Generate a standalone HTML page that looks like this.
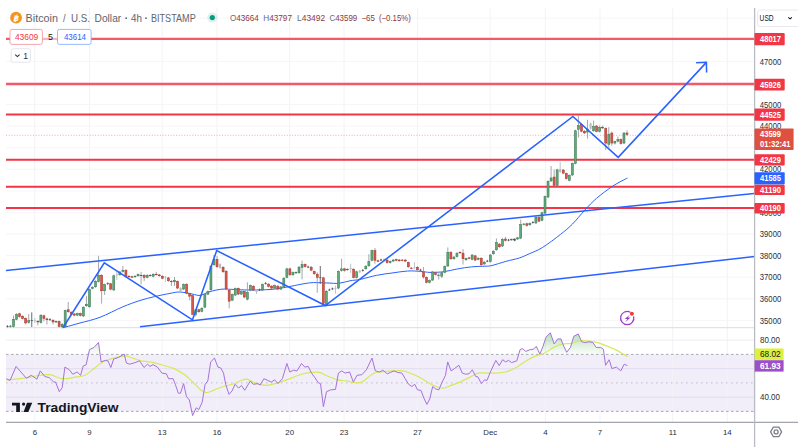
<!DOCTYPE html>
<html><head><meta charset="utf-8"><style>
html,body{margin:0;padding:0;background:#fff;}
body{width:798px;height:447px;overflow:hidden;position:relative;font-family:"Liberation Sans",sans-serif;}
svg{position:absolute;left:0;top:0;}
</style></head><body>
<svg width="798" height="447" viewBox="0 0 798 447" font-family="Liberation Sans, sans-serif">
<defs>
<linearGradient id="gf" x1="0" y1="330" x2="0" y2="354.4" gradientUnits="userSpaceOnUse">
<stop offset="0" stop-color="#4caf50" stop-opacity="0.45"/><stop offset="1" stop-color="#4caf50" stop-opacity="0.02"/>
</linearGradient>
<clipPath id="above70"><rect x="0" y="320" width="754" height="34.4"/></clipPath>
<clipPath id="chart"><rect x="6" y="8" width="748.5" height="414"/></clipPath>
</defs>
<rect x="0" y="0" width="798" height="447" fill="#ffffff"/>
<rect x="6" y="354.4" width="748" height="57.0" fill="#f1edf9"/>
<line x1="34.8" y1="8" x2="34.8" y2="422" stroke="#f3f3f5" stroke-width="1"/>
<line x1="89.5" y1="8" x2="89.5" y2="422" stroke="#f3f3f5" stroke-width="1"/>
<line x1="162.2" y1="8" x2="162.2" y2="422" stroke="#f3f3f5" stroke-width="1"/>
<line x1="217" y1="8" x2="217" y2="422" stroke="#f3f3f5" stroke-width="1"/>
<line x1="289.7" y1="8" x2="289.7" y2="422" stroke="#f3f3f5" stroke-width="1"/>
<line x1="344.1" y1="8" x2="344.1" y2="422" stroke="#f3f3f5" stroke-width="1"/>
<line x1="417.5" y1="8" x2="417.5" y2="422" stroke="#f3f3f5" stroke-width="1"/>
<line x1="490.2" y1="8" x2="490.2" y2="422" stroke="#f3f3f5" stroke-width="1"/>
<line x1="545.4" y1="8" x2="545.4" y2="422" stroke="#f3f3f5" stroke-width="1"/>
<line x1="600" y1="8" x2="600" y2="422" stroke="#f3f3f5" stroke-width="1"/>
<line x1="672.7" y1="8" x2="672.7" y2="422" stroke="#f3f3f5" stroke-width="1"/>
<line x1="727.3" y1="8" x2="727.3" y2="422" stroke="#f3f3f5" stroke-width="1"/>
<line x1="6" y1="320.4" x2="754" y2="320.4" stroke="#f6f6f8" stroke-width="1"/>
<line x1="6" y1="298.8" x2="754" y2="298.8" stroke="#f6f6f8" stroke-width="1"/>
<line x1="6" y1="277.2" x2="754" y2="277.2" stroke="#f6f6f8" stroke-width="1"/>
<line x1="6" y1="255.6" x2="754" y2="255.6" stroke="#f6f6f8" stroke-width="1"/>
<line x1="6" y1="234.0" x2="754" y2="234.0" stroke="#f6f6f8" stroke-width="1"/>
<line x1="6" y1="212.5" x2="754" y2="212.5" stroke="#f6f6f8" stroke-width="1"/>
<line x1="6" y1="190.9" x2="754" y2="190.9" stroke="#f6f6f8" stroke-width="1"/>
<line x1="6" y1="169.3" x2="754" y2="169.3" stroke="#f6f6f8" stroke-width="1"/>
<line x1="6" y1="147.7" x2="754" y2="147.7" stroke="#f6f6f8" stroke-width="1"/>
<line x1="6" y1="126.1" x2="754" y2="126.1" stroke="#f6f6f8" stroke-width="1"/>
<line x1="6" y1="104.6" x2="754" y2="104.6" stroke="#f6f6f8" stroke-width="1"/>
<line x1="6" y1="83.0" x2="754" y2="83.0" stroke="#f6f6f8" stroke-width="1"/>
<line x1="6" y1="61.4" x2="754" y2="61.4" stroke="#f6f6f8" stroke-width="1"/>
<line x1="6" y1="39.8" x2="754" y2="39.8" stroke="#f6f6f8" stroke-width="1"/>
<line x1="6" y1="18.2" x2="754" y2="18.2" stroke="#f6f6f8" stroke-width="1"/>
<line x1="6" y1="340.2" x2="754" y2="340.2" stroke="#eeedf4"/>
<line x1="6" y1="368.7" x2="754" y2="368.7" stroke="#e2ddef"/>
<line x1="6" y1="397.2" x2="754" y2="397.2" stroke="#e2ddef"/>
<line x1="6" y1="354.4" x2="754" y2="354.4" stroke="#a3a5ad" stroke-width="0.95" stroke-dasharray="2.5 2.5"/>
<line x1="6" y1="382.9" x2="754" y2="382.9" stroke="#c2c0ce" stroke-dasharray="1.6 3.4"/>
<line x1="6" y1="411.4" x2="754" y2="411.4" stroke="#a3a5ad" stroke-width="0.95" stroke-dasharray="2.5 2.5"/>
<line x1="6" y1="327.6" x2="754" y2="327.6" stroke="#e3e1ec" stroke-width="1.2"/>
<!-- RSI -->
<path d="M6.3,354.4 L6.3,378.7 10.0,380.5 16.1,366.4 26.4,378.3 31.3,375.3 36.9,379.2 40.3,370.9 44.8,376.5 49.2,377.6 53.7,382.0 55.5,382.0 59.3,391.7 62.2,387.7 64.9,367.1 69.4,369.8 72.7,374.2 77.2,372.0 80.6,375.3 83.2,366.0 86.1,364.8 89.5,349.6 94.0,347.4 98.5,342.5 101.1,361.9 105.2,360.4 107.9,360.8 110.8,367.5 113.7,359.0 118.6,357.4 124.2,354.1 126.4,363.0 129.5,364.2 135.1,362.6 139.5,360.8 144.0,367.5 147.4,364.2 150.0,366.4 153.0,364.6 157.4,367.1 161.9,373.1 166.4,373.8 168.6,378.7 173.1,378.7 175.3,384.3 178.3,393.2 180.5,393.2 183.6,383.6 186.5,396.6 189.4,400.0 192.6,415.6 196.2,407.8 198.8,409.6 202.2,402.2 205.1,384.3 207.8,381.0 210.7,361.9 214.5,358.1 217.9,367.1 220.8,368.0 223.5,373.1 225.7,384.3 229.0,394.4 232.0,391.0 235.1,384.3 238.7,388.1 241.4,385.4 244.7,390.3 250.3,381.0 253.4,384.3 257.8,383.6 260.1,385.0 263.9,378.7 267.9,380.5 271.3,382.1 274.6,379.8 278.0,383.6 282.4,378.7 286.9,363.5 289.8,372.0 293.6,370.2 297.0,370.9 301.5,363.5 304.8,367.1 308.2,366.4 311.5,373.1 314.9,377.6 318.2,382.7 320.5,383.6 323.4,406.7 326.5,391.7 330.6,389.9 335.5,389.4 338.4,373.1 341.7,370.9 345.1,373.1 349.6,372.0 353.4,382.1 357.0,375.3 361.9,374.7 366.4,369.8 372.0,358.1 375.3,370.9 379.5,372.0 382.8,370.2 387.3,373.8 390.7,372.4 394.0,370.9 397.4,372.4 401.9,373.1 405.2,378.7 408.6,384.3 411.9,386.5 414.8,384.3 417.5,389.9 420.9,390.3 424.2,398.8 426.9,404.4 429.8,398.8 432.7,386.5 435.4,388.8 438.8,389.9 442.1,382.1 445.5,375.3 447.7,361.9 451.1,370.9 454.4,368.6 458.9,365.3 462.3,373.1 465.6,374.2 469.0,373.8 472.3,369.8 475.7,376.5 477.9,376.9 481.3,383.6 484.6,379.8 486.9,380.5 490.9,370.9 495.8,360.4 499.2,365.7 502.7,359.7 505.6,361.9 508.5,360.4 511.6,362.6 516.8,360.8 520.1,349.6 522.4,348.5 525.7,351.4 530.2,349.6 533.6,349.2 536.3,346.3 539.8,354.1 543.0,346.3 545.9,337.3 550.3,332.8 554.2,344.0 557.7,338.9 560.9,338.9 563.8,346.3 566.7,352.3 570.5,347.4 573.8,336.2 578.3,334.0 581.7,341.8 585.0,342.5 589.1,341.8 592.9,342.5 596.2,347.4 600.7,347.4 603.4,349.2 605.6,365.3 609.2,359.7 611.9,368.6 616.4,367.1 620.8,370.9 624.2,364.2 627.5,365.7 L627.5,354.4 Z" fill="url(#gf)" clip-path="url(#above70)"/>
<path d="M6.3,379.8 C9.0,379.6 17.5,378.9 22.4,378.3 C27.3,377.7 31.3,376.6 35.8,376.0 C40.3,375.4 44.7,374.2 49.2,374.7 C53.7,375.1 58.2,378.3 62.7,378.7 C67.2,379.1 72.4,377.5 76.1,376.9 C79.8,376.3 82.0,376.7 85.0,375.3 C88.0,373.9 91.0,370.8 94.0,368.6 C97.0,366.4 99.6,363.6 102.9,361.9 C106.2,360.1 110.4,359.1 114.1,358.1 C117.8,357.1 122.0,355.8 125.3,355.9 C128.6,356.0 131.1,357.7 134.0,358.6 C136.9,359.5 139.6,360.5 142.9,361.2 C146.2,361.9 150.8,361.9 154.1,362.6 C157.4,363.3 159.7,364.3 163.0,365.3 C166.3,366.3 170.5,366.9 174.2,368.6 C177.9,370.3 182.0,372.8 185.4,375.3 C188.8,377.8 191.8,381.1 194.4,383.6 C197.0,386.1 199.1,388.8 201.1,390.3 C203.1,391.8 204.5,392.7 206.7,392.6 C208.9,392.5 211.7,390.9 214.5,389.9 C217.3,388.9 220.5,387.4 223.5,386.5 C226.5,385.6 229.4,385.3 232.4,384.3 C235.4,383.3 239.0,381.4 241.4,380.5 C243.8,379.6 244.4,378.7 247.0,379.2 C249.6,379.7 253.6,382.6 256.7,383.6 C259.8,384.6 262.7,385.4 265.7,385.4 C268.7,385.4 271.6,384.4 274.6,383.6 C277.6,382.9 280.6,381.9 283.6,380.9 C286.6,379.9 289.5,378.7 292.5,377.6 C295.5,376.5 298.5,375.1 301.5,374.2 C304.5,373.3 307.4,372.7 310.4,372.4 C313.4,372.1 316.4,371.7 319.4,372.4 C322.4,373.1 325.3,375.3 328.3,376.5 C331.3,377.7 334.3,379.1 337.3,379.8 C340.3,380.5 343.2,380.4 346.2,380.9 C349.2,381.4 352.6,382.5 355.2,382.7 C357.8,382.9 359.7,383.1 361.9,382.1 C364.1,381.1 366.6,378.4 368.6,376.9 C370.7,375.4 372.3,373.9 374.2,373.1 C376.1,372.3 378.4,372.3 380.0,372.0 C381.6,371.7 381.9,371.7 384.0,371.5 C386.1,371.3 389.7,371.0 392.9,370.9 C396.1,370.8 399.8,370.4 403.0,370.9 C406.2,371.4 408.7,372.5 411.9,373.8 C415.1,375.1 418.8,376.9 422.0,378.7 C425.2,380.4 427.5,382.7 430.9,384.3 C434.2,385.9 438.7,387.9 442.1,388.1 C445.5,388.3 448.1,386.4 451.1,385.4 C454.1,384.4 457.0,383.4 460.0,382.1 C463.0,380.8 466.0,379.1 469.0,377.6 C472.0,376.1 474.9,373.9 477.9,373.1 C480.9,372.4 483.9,373.1 486.9,373.1 C489.9,373.1 492.8,373.3 495.8,373.1 C498.8,372.9 502.8,372.4 505.0,372.0 C507.2,371.6 506.9,371.8 509.0,370.9 C511.1,370.0 514.9,368.1 517.9,366.4 C520.9,364.6 523.9,362.1 526.9,360.4 C529.9,358.6 532.8,357.1 535.8,355.9 C538.8,354.7 541.8,354.4 544.8,353.0 C547.8,351.6 550.7,348.9 553.7,347.4 C556.7,345.9 559.7,344.7 562.7,344.0 C565.7,343.3 568.6,343.9 571.6,343.3 C574.6,342.8 577.6,341.1 580.6,340.7 C583.6,340.3 586.5,340.7 589.5,341.1 C592.5,341.5 595.5,342.0 598.5,342.9 C601.5,343.8 604.4,345.1 607.4,346.3 C610.4,347.5 613.8,348.8 616.4,350.1 C619.0,351.4 621.2,353.0 623.1,354.1 C625.0,355.2 626.8,356.4 627.5,356.8" fill="none" stroke="#d7e85a" stroke-width="1.2"/>
<polyline points="6.3,378.7 10.0,380.5 16.1,366.4 26.4,378.3 31.3,375.3 36.9,379.2 40.3,370.9 44.8,376.5 49.2,377.6 53.7,382.0 55.5,382.0 59.3,391.7 62.2,387.7 64.9,367.1 69.4,369.8 72.7,374.2 77.2,372.0 80.6,375.3 83.2,366.0 86.1,364.8 89.5,349.6 94.0,347.4 98.5,342.5 101.1,361.9 105.2,360.4 107.9,360.8 110.8,367.5 113.7,359.0 118.6,357.4 124.2,354.1 126.4,363.0 129.5,364.2 135.1,362.6 139.5,360.8 144.0,367.5 147.4,364.2 150.0,366.4 153.0,364.6 157.4,367.1 161.9,373.1 166.4,373.8 168.6,378.7 173.1,378.7 175.3,384.3 178.3,393.2 180.5,393.2 183.6,383.6 186.5,396.6 189.4,400.0 192.6,415.6 196.2,407.8 198.8,409.6 202.2,402.2 205.1,384.3 207.8,381.0 210.7,361.9 214.5,358.1 217.9,367.1 220.8,368.0 223.5,373.1 225.7,384.3 229.0,394.4 232.0,391.0 235.1,384.3 238.7,388.1 241.4,385.4 244.7,390.3 250.3,381.0 253.4,384.3 257.8,383.6 260.1,385.0 263.9,378.7 267.9,380.5 271.3,382.1 274.6,379.8 278.0,383.6 282.4,378.7 286.9,363.5 289.8,372.0 293.6,370.2 297.0,370.9 301.5,363.5 304.8,367.1 308.2,366.4 311.5,373.1 314.9,377.6 318.2,382.7 320.5,383.6 323.4,406.7 326.5,391.7 330.6,389.9 335.5,389.4 338.4,373.1 341.7,370.9 345.1,373.1 349.6,372.0 353.4,382.1 357.0,375.3 361.9,374.7 366.4,369.8 372.0,358.1 375.3,370.9 379.5,372.0 382.8,370.2 387.3,373.8 390.7,372.4 394.0,370.9 397.4,372.4 401.9,373.1 405.2,378.7 408.6,384.3 411.9,386.5 414.8,384.3 417.5,389.9 420.9,390.3 424.2,398.8 426.9,404.4 429.8,398.8 432.7,386.5 435.4,388.8 438.8,389.9 442.1,382.1 445.5,375.3 447.7,361.9 451.1,370.9 454.4,368.6 458.9,365.3 462.3,373.1 465.6,374.2 469.0,373.8 472.3,369.8 475.7,376.5 477.9,376.9 481.3,383.6 484.6,379.8 486.9,380.5 490.9,370.9 495.8,360.4 499.2,365.7 502.7,359.7 505.6,361.9 508.5,360.4 511.6,362.6 516.8,360.8 520.1,349.6 522.4,348.5 525.7,351.4 530.2,349.6 533.6,349.2 536.3,346.3 539.8,354.1 543.0,346.3 545.9,337.3 550.3,332.8 554.2,344.0 557.7,338.9 560.9,338.9 563.8,346.3 566.7,352.3 570.5,347.4 573.8,336.2 578.3,334.0 581.7,341.8 585.0,342.5 589.1,341.8 592.9,342.5 596.2,347.4 600.7,347.4 603.4,349.2 605.6,365.3 609.2,359.7 611.9,368.6 616.4,367.1 620.8,370.9 624.2,364.2 627.5,365.7" fill="none" stroke="#a673da" stroke-width="1" stroke-linejoin="round"/>
<!-- price -->
<g clip-path="url(#chart)">
<line x1="6" y1="38.9" x2="754" y2="38.9" stroke="#f4586b" stroke-width="2.3"/>
<line x1="6" y1="84.0" x2="754" y2="84.0" stroke="#f4586b" stroke-width="2.3"/>
<line x1="6" y1="114.6" x2="754" y2="114.6" stroke="#f23645" stroke-width="2"/>
<line x1="6" y1="159.8" x2="754" y2="159.8" stroke="#f23645" stroke-width="2"/>
<line x1="6" y1="186.7" x2="754" y2="186.7" stroke="#f23645" stroke-width="2"/>
<line x1="6" y1="208.0" x2="754" y2="208.0" stroke="#f23645" stroke-width="2"/>
<line x1="6" y1="135.3" x2="754" y2="135.3" stroke="#f23645" stroke-width="1" stroke-dasharray="1 1.7" opacity="0.45"/>
<path d="M62.0,327.8 C62.6,327.7 62.8,327.8 65.8,327.0 C68.8,326.2 74.3,324.6 80.0,323.0 C85.7,321.4 92.9,320.0 100.0,317.3 C107.1,314.6 115.9,309.7 122.6,306.9 C129.3,304.1 134.7,302.2 140.0,300.5 C145.3,298.8 149.5,297.8 154.5,296.6 C159.5,295.4 165.8,294.2 170.0,293.4 C174.2,292.6 176.3,291.9 180.0,292.0 C183.7,292.1 188.7,293.4 192.0,294.0 C195.3,294.6 197.3,295.7 200.0,295.4 C202.7,295.1 205.3,293.2 208.0,292.3 C210.7,291.4 213.6,290.6 216.3,290.0 C219.0,289.4 222.1,289.1 224.4,289.0 C226.7,288.9 225.7,289.1 230.0,289.3 C234.3,289.5 243.3,290.0 250.0,290.0 C256.7,290.0 264.2,289.9 270.0,289.5 C275.8,289.1 279.5,288.3 285.0,287.4 C290.5,286.5 298.1,284.7 302.9,283.9 C307.7,283.1 309.4,282.8 313.6,282.6 C317.8,282.5 323.8,282.9 328.0,283.0 C332.2,283.1 335.0,283.7 338.7,283.3 C342.4,282.9 346.3,281.5 350.0,280.8 C353.7,280.1 356.3,280.2 360.7,279.3 C365.1,278.4 371.1,276.4 376.3,275.4 C381.5,274.3 386.8,273.7 392.0,273.0 C397.2,272.3 402.8,271.3 407.6,271.0 C412.4,270.7 417.0,271.2 420.7,271.4 C424.4,271.6 426.1,272.3 430.0,272.4 C433.9,272.4 439.2,272.3 443.8,271.7 C448.4,271.1 453.0,269.7 457.6,268.9 C462.2,268.1 466.8,267.3 471.4,266.9 C476.0,266.4 481.7,266.4 485.1,266.2 C488.5,266.0 488.6,266.3 492.0,265.5 C495.4,264.7 501.2,262.7 505.8,261.4 C510.4,260.1 515.7,259.2 519.6,257.9 C523.5,256.6 525.4,255.5 529.2,253.8 C533.0,252.1 537.1,250.8 542.3,247.6 C547.5,244.4 555.4,238.4 560.4,234.5 C565.4,230.6 568.5,228.0 572.5,224.0 C576.5,220.0 580.6,214.6 584.6,210.3 C588.6,206.0 592.0,202.2 596.7,198.2 C601.4,194.2 607.7,189.5 612.8,186.1 C617.9,182.7 625.0,179.3 627.5,178.0" fill="none" stroke="#2962ff" stroke-width="1"/>
<line x1="7.47" y1="325.2" x2="7.47" y2="327.4" stroke="#555a60" stroke-width="0.9"/>
<rect x="6.42" y="326.0" width="2.1" height="0.9" fill="#555a60"/>
<line x1="10.50" y1="325.0" x2="10.50" y2="327.5" stroke="#9b9da4" stroke-width="0.9"/>
<rect x="9.50" y="326.05" width="2.0" height="0.50" fill="#5fa97a" stroke="#3c7a52" stroke-width="0.55"/>
<line x1="13.54" y1="315.5" x2="13.54" y2="327.5" stroke="#9b9da4" stroke-width="0.9"/>
<rect x="12.54" y="319.25" width="2.0" height="7.20" fill="#5fa97a" stroke="#3c7a52" stroke-width="0.55"/>
<line x1="16.58" y1="313.2" x2="16.58" y2="320.3" stroke="#9b9da4" stroke-width="0.9"/>
<rect x="15.58" y="314.25" width="2.0" height="5.00" fill="#5fa97a" stroke="#3c7a52" stroke-width="0.55"/>
<line x1="19.61" y1="312.7" x2="19.61" y2="317.7" stroke="#9b9da4" stroke-width="0.9"/>
<rect x="18.61" y="313.75" width="2.0" height="2.90" fill="#d5584a" stroke="#a8392d" stroke-width="0.55"/>
<line x1="22.65" y1="315.2" x2="22.65" y2="319.6" stroke="#9b9da4" stroke-width="0.9"/>
<rect x="21.65" y="316.25" width="2.0" height="2.30" fill="#d5584a" stroke="#a8392d" stroke-width="0.55"/>
<line x1="25.69" y1="317.4" x2="25.69" y2="324.5" stroke="#9b9da4" stroke-width="0.9"/>
<rect x="24.69" y="318.45" width="2.0" height="4.40" fill="#d5584a" stroke="#a8392d" stroke-width="0.55"/>
<line x1="28.73" y1="314.0" x2="28.73" y2="323.5" stroke="#9b9da4" stroke-width="0.9"/>
<rect x="27.73" y="320.65" width="2.0" height="1.80" fill="#5fa97a" stroke="#3c7a52" stroke-width="0.55"/>
<line x1="31.76" y1="312.4" x2="31.76" y2="327.0" stroke="#555a60" stroke-width="0.9"/>
<rect x="30.71" y="320.0" width="2.1" height="0.9" fill="#555a60"/>
<line x1="34.80" y1="318.0" x2="34.80" y2="323.0" stroke="#b8bbc2" stroke-width="0.9"/>
<rect x="33.75" y="320.0" width="2.1" height="0.9" fill="#b8bbc2"/>
<line x1="37.84" y1="320.2" x2="37.84" y2="325.4" stroke="#9b9da4" stroke-width="0.9"/>
<rect x="36.84" y="321.25" width="2.0" height="0.70" fill="#d5584a" stroke="#a8392d" stroke-width="0.55"/>
<line x1="40.87" y1="314.2" x2="40.87" y2="323.5" stroke="#9b9da4" stroke-width="0.9"/>
<rect x="39.87" y="315.25" width="2.0" height="7.20" fill="#5fa97a" stroke="#3c7a52" stroke-width="0.55"/>
<line x1="43.91" y1="314.7" x2="43.91" y2="321.3" stroke="#9b9da4" stroke-width="0.9"/>
<rect x="42.91" y="315.75" width="2.0" height="2.60" fill="#d5584a" stroke="#a8392d" stroke-width="0.55"/>
<line x1="46.95" y1="317.8" x2="46.95" y2="324.5" stroke="#9b9da4" stroke-width="0.9"/>
<rect x="45.95" y="318.85" width="2.0" height="0.90" fill="#d5584a" stroke="#a8392d" stroke-width="0.55"/>
<line x1="49.98" y1="318.4" x2="49.98" y2="320.7" stroke="#555a60" stroke-width="0.9"/>
<rect x="48.94" y="319.2" width="2.1" height="0.9" fill="#555a60"/>
<line x1="53.02" y1="319.2" x2="53.02" y2="324.5" stroke="#9b9da4" stroke-width="0.9"/>
<rect x="52.02" y="320.25" width="2.0" height="1.70" fill="#d5584a" stroke="#a8392d" stroke-width="0.55"/>
<line x1="56.06" y1="320.5" x2="56.06" y2="323.0" stroke="#9b9da4" stroke-width="0.9"/>
<rect x="55.06" y="321.55" width="2.0" height="0.50" fill="#5fa97a" stroke="#3c7a52" stroke-width="0.55"/>
<line x1="59.10" y1="320.5" x2="59.10" y2="327.5" stroke="#9b9da4" stroke-width="0.9"/>
<rect x="58.10" y="321.55" width="2.0" height="4.90" fill="#d5584a" stroke="#a8392d" stroke-width="0.55"/>
<line x1="62.13" y1="323.2" x2="62.13" y2="327.8" stroke="#9b9da4" stroke-width="0.9"/>
<rect x="61.13" y="324.25" width="2.0" height="2.50" fill="#5fa97a" stroke="#3c7a52" stroke-width="0.55"/>
<line x1="65.17" y1="309.6" x2="65.17" y2="327.8" stroke="#9b9da4" stroke-width="0.9"/>
<rect x="64.17" y="310.65" width="2.0" height="16.10" fill="#5fa97a" stroke="#3c7a52" stroke-width="0.55"/>
<line x1="68.21" y1="302.0" x2="68.21" y2="312.8" stroke="#9b9da4" stroke-width="0.9"/>
<rect x="67.21" y="309.75" width="2.0" height="2.00" fill="#d5584a" stroke="#a8392d" stroke-width="0.55"/>
<line x1="71.24" y1="311.2" x2="71.24" y2="315.3" stroke="#9b9da4" stroke-width="0.9"/>
<rect x="70.24" y="312.25" width="2.0" height="2.00" fill="#d5584a" stroke="#a8392d" stroke-width="0.55"/>
<line x1="74.28" y1="312.9" x2="74.28" y2="316.2" stroke="#9b9da4" stroke-width="0.9"/>
<rect x="73.28" y="313.95" width="2.0" height="1.20" fill="#d5584a" stroke="#a8392d" stroke-width="0.55"/>
<line x1="77.32" y1="312.6" x2="77.32" y2="316.2" stroke="#9b9da4" stroke-width="0.9"/>
<rect x="76.32" y="313.65" width="2.0" height="1.50" fill="#5fa97a" stroke="#3c7a52" stroke-width="0.55"/>
<line x1="80.35" y1="312.6" x2="80.35" y2="316.5" stroke="#9b9da4" stroke-width="0.9"/>
<rect x="79.35" y="313.65" width="2.0" height="1.80" fill="#d5584a" stroke="#a8392d" stroke-width="0.55"/>
<line x1="83.39" y1="306.2" x2="83.39" y2="317.0" stroke="#9b9da4" stroke-width="0.9"/>
<rect x="82.39" y="307.25" width="2.0" height="8.70" fill="#5fa97a" stroke="#3c7a52" stroke-width="0.55"/>
<line x1="86.43" y1="296.0" x2="86.43" y2="306.8" stroke="#9b9da4" stroke-width="0.9"/>
<rect x="85.43" y="304.25" width="2.0" height="1.50" fill="#5fa97a" stroke="#3c7a52" stroke-width="0.55"/>
<line x1="89.47" y1="288.6" x2="89.47" y2="307.8" stroke="#9b9da4" stroke-width="0.9"/>
<rect x="88.47" y="289.65" width="2.0" height="17.10" fill="#5fa97a" stroke="#3c7a52" stroke-width="0.55"/>
<line x1="92.50" y1="286.2" x2="92.50" y2="289.4" stroke="#9b9da4" stroke-width="0.9"/>
<rect x="91.50" y="287.25" width="2.0" height="1.10" fill="#5fa97a" stroke="#3c7a52" stroke-width="0.55"/>
<line x1="95.54" y1="280.2" x2="95.54" y2="287.8" stroke="#9b9da4" stroke-width="0.9"/>
<rect x="94.54" y="281.25" width="2.0" height="5.50" fill="#5fa97a" stroke="#3c7a52" stroke-width="0.55"/>
<line x1="98.58" y1="255.8" x2="98.58" y2="282.6" stroke="#9b9da4" stroke-width="0.9"/>
<rect x="97.58" y="275.25" width="2.0" height="6.30" fill="#5fa97a" stroke="#3c7a52" stroke-width="0.55"/>
<line x1="101.61" y1="274.2" x2="101.61" y2="303.6" stroke="#9b9da4" stroke-width="0.9"/>
<rect x="100.61" y="275.25" width="2.0" height="15.50" fill="#d5584a" stroke="#a8392d" stroke-width="0.55"/>
<line x1="104.65" y1="283.6" x2="104.65" y2="295.0" stroke="#9b9da4" stroke-width="0.9"/>
<rect x="103.65" y="284.65" width="2.0" height="6.10" fill="#5fa97a" stroke="#3c7a52" stroke-width="0.55"/>
<line x1="107.69" y1="282.4" x2="107.69" y2="284.8" stroke="#555a60" stroke-width="0.9"/>
<rect x="106.64" y="283.2" width="2.1" height="0.9" fill="#555a60"/>
<line x1="110.72" y1="282.7" x2="110.72" y2="290.2" stroke="#9b9da4" stroke-width="0.9"/>
<rect x="109.72" y="283.75" width="2.0" height="5.40" fill="#d5584a" stroke="#a8392d" stroke-width="0.55"/>
<line x1="113.76" y1="274.7" x2="113.76" y2="291.0" stroke="#9b9da4" stroke-width="0.9"/>
<rect x="112.76" y="275.75" width="2.0" height="14.20" fill="#5fa97a" stroke="#3c7a52" stroke-width="0.55"/>
<line x1="116.80" y1="271.8" x2="116.80" y2="280.0" stroke="#b8bbc2" stroke-width="0.9"/>
<rect x="115.75" y="274.6" width="2.1" height="0.9" fill="#b8bbc2"/>
<line x1="119.84" y1="271.0" x2="119.84" y2="275.8" stroke="#9b9da4" stroke-width="0.9"/>
<rect x="118.84" y="272.05" width="2.0" height="2.70" fill="#5fa97a" stroke="#3c7a52" stroke-width="0.55"/>
<line x1="122.87" y1="266.0" x2="122.87" y2="272.6" stroke="#9b9da4" stroke-width="0.9"/>
<rect x="121.87" y="270.25" width="2.0" height="1.30" fill="#5fa97a" stroke="#3c7a52" stroke-width="0.55"/>
<line x1="125.91" y1="269.2" x2="125.91" y2="277.6" stroke="#9b9da4" stroke-width="0.9"/>
<rect x="124.91" y="270.25" width="2.0" height="6.30" fill="#d5584a" stroke="#a8392d" stroke-width="0.55"/>
<line x1="128.95" y1="275.2" x2="128.95" y2="277.8" stroke="#9b9da4" stroke-width="0.9"/>
<rect x="127.95" y="276.25" width="2.0" height="0.50" fill="#d5584a" stroke="#a8392d" stroke-width="0.55"/>
<line x1="131.98" y1="275.7" x2="131.98" y2="278.1" stroke="#9b9da4" stroke-width="0.9"/>
<rect x="130.98" y="276.75" width="2.0" height="0.50" fill="#d5584a" stroke="#a8392d" stroke-width="0.55"/>
<line x1="135.02" y1="275.2" x2="135.02" y2="277.8" stroke="#9b9da4" stroke-width="0.9"/>
<rect x="134.02" y="276.25" width="2.0" height="0.50" fill="#5fa97a" stroke="#3c7a52" stroke-width="0.55"/>
<line x1="138.06" y1="273.5" x2="138.06" y2="276.8" stroke="#9b9da4" stroke-width="0.9"/>
<rect x="137.06" y="274.55" width="2.0" height="1.20" fill="#5fa97a" stroke="#3c7a52" stroke-width="0.55"/>
<line x1="141.09" y1="271.8" x2="141.09" y2="284.4" stroke="#9b9da4" stroke-width="0.9"/>
<rect x="140.09" y="275.25" width="2.0" height="0.50" fill="#d5584a" stroke="#a8392d" stroke-width="0.55"/>
<line x1="144.13" y1="274.2" x2="144.13" y2="281.0" stroke="#9b9da4" stroke-width="0.9"/>
<rect x="143.13" y="275.25" width="2.0" height="2.10" fill="#d5584a" stroke="#a8392d" stroke-width="0.55"/>
<line x1="147.17" y1="274.2" x2="147.17" y2="278.4" stroke="#9b9da4" stroke-width="0.9"/>
<rect x="146.17" y="275.25" width="2.0" height="2.10" fill="#5fa97a" stroke="#3c7a52" stroke-width="0.55"/>
<line x1="150.21" y1="274.2" x2="150.21" y2="276.8" stroke="#9b9da4" stroke-width="0.9"/>
<rect x="149.21" y="275.25" width="2.0" height="0.50" fill="#d5584a" stroke="#a8392d" stroke-width="0.55"/>
<line x1="153.24" y1="273.2" x2="153.24" y2="277.3" stroke="#9b9da4" stroke-width="0.9"/>
<rect x="152.24" y="274.25" width="2.0" height="2.00" fill="#5fa97a" stroke="#3c7a52" stroke-width="0.55"/>
<line x1="156.28" y1="271.8" x2="156.28" y2="275.5" stroke="#9b9da4" stroke-width="0.9"/>
<rect x="155.28" y="274.25" width="2.0" height="0.50" fill="#d5584a" stroke="#a8392d" stroke-width="0.55"/>
<line x1="159.32" y1="273.9" x2="159.32" y2="276.8" stroke="#9b9da4" stroke-width="0.9"/>
<rect x="158.32" y="274.95" width="2.0" height="0.80" fill="#d5584a" stroke="#a8392d" stroke-width="0.55"/>
<line x1="162.35" y1="275.2" x2="162.35" y2="279.3" stroke="#9b9da4" stroke-width="0.9"/>
<rect x="161.35" y="276.25" width="2.0" height="2.00" fill="#d5584a" stroke="#a8392d" stroke-width="0.55"/>
<line x1="165.39" y1="276.0" x2="165.39" y2="281.8" stroke="#b8bbc2" stroke-width="0.9"/>
<rect x="164.34" y="276.6" width="2.1" height="0.9" fill="#b8bbc2"/>
<line x1="168.43" y1="276.9" x2="168.43" y2="281.8" stroke="#9b9da4" stroke-width="0.9"/>
<rect x="167.43" y="277.95" width="2.0" height="2.80" fill="#d5584a" stroke="#a8392d" stroke-width="0.55"/>
<line x1="171.46" y1="280.2" x2="171.46" y2="286.0" stroke="#9b9da4" stroke-width="0.9"/>
<rect x="170.46" y="281.25" width="2.0" height="0.50" fill="#5fa97a" stroke="#3c7a52" stroke-width="0.55"/>
<line x1="174.50" y1="277.0" x2="174.50" y2="286.0" stroke="#9b9da4" stroke-width="0.9"/>
<rect x="173.50" y="280.25" width="2.0" height="1.50" fill="#5fa97a" stroke="#3c7a52" stroke-width="0.55"/>
<line x1="177.54" y1="280.5" x2="177.54" y2="289.1" stroke="#9b9da4" stroke-width="0.9"/>
<rect x="176.54" y="281.55" width="2.0" height="6.50" fill="#d5584a" stroke="#a8392d" stroke-width="0.55"/>
<line x1="180.58" y1="287.2" x2="180.58" y2="291.8" stroke="#b8bbc2" stroke-width="0.9"/>
<rect x="179.53" y="288.0" width="2.1" height="3.0" fill="#b8bbc2"/>
<line x1="183.61" y1="283.5" x2="183.61" y2="290.1" stroke="#9b9da4" stroke-width="0.9"/>
<rect x="182.61" y="284.55" width="2.0" height="4.50" fill="#5fa97a" stroke="#3c7a52" stroke-width="0.55"/>
<line x1="186.65" y1="283.2" x2="186.65" y2="294.2" stroke="#9b9da4" stroke-width="0.9"/>
<rect x="185.65" y="284.25" width="2.0" height="8.90" fill="#d5584a" stroke="#a8392d" stroke-width="0.55"/>
<line x1="189.69" y1="292.6" x2="189.69" y2="300.4" stroke="#9b9da4" stroke-width="0.9"/>
<rect x="188.69" y="293.65" width="2.0" height="2.50" fill="#d5584a" stroke="#a8392d" stroke-width="0.55"/>
<line x1="192.72" y1="294.6" x2="192.72" y2="315.3" stroke="#9b9da4" stroke-width="0.9"/>
<rect x="191.72" y="295.65" width="2.0" height="18.60" fill="#d5584a" stroke="#a8392d" stroke-width="0.55"/>
<line x1="195.76" y1="308.7" x2="195.76" y2="316.4" stroke="#9b9da4" stroke-width="0.9"/>
<rect x="194.76" y="309.75" width="2.0" height="4.50" fill="#5fa97a" stroke="#3c7a52" stroke-width="0.55"/>
<line x1="198.80" y1="308.7" x2="198.80" y2="312.8" stroke="#9b9da4" stroke-width="0.9"/>
<rect x="197.80" y="309.75" width="2.0" height="2.00" fill="#d5584a" stroke="#a8392d" stroke-width="0.55"/>
<line x1="201.83" y1="307.2" x2="201.83" y2="312.3" stroke="#9b9da4" stroke-width="0.9"/>
<rect x="200.83" y="308.25" width="2.0" height="3.00" fill="#5fa97a" stroke="#3c7a52" stroke-width="0.55"/>
<line x1="204.87" y1="293.6" x2="204.87" y2="308.2" stroke="#9b9da4" stroke-width="0.9"/>
<rect x="203.87" y="294.65" width="2.0" height="12.50" fill="#5fa97a" stroke="#3c7a52" stroke-width="0.55"/>
<line x1="207.91" y1="290.5" x2="207.91" y2="295.2" stroke="#9b9da4" stroke-width="0.9"/>
<rect x="206.91" y="291.55" width="2.0" height="2.60" fill="#5fa97a" stroke="#3c7a52" stroke-width="0.55"/>
<line x1="210.95" y1="265.2" x2="210.95" y2="290.8" stroke="#9b9da4" stroke-width="0.9"/>
<rect x="209.95" y="266.25" width="2.0" height="23.50" fill="#5fa97a" stroke="#3c7a52" stroke-width="0.55"/>
<line x1="213.98" y1="255.0" x2="213.98" y2="265.8" stroke="#9b9da4" stroke-width="0.9"/>
<rect x="212.98" y="259.25" width="2.0" height="5.50" fill="#5fa97a" stroke="#3c7a52" stroke-width="0.55"/>
<line x1="217.02" y1="256.0" x2="217.02" y2="267.8" stroke="#9b9da4" stroke-width="0.9"/>
<rect x="216.02" y="259.25" width="2.0" height="7.50" fill="#d5584a" stroke="#a8392d" stroke-width="0.55"/>
<line x1="220.06" y1="263.2" x2="220.06" y2="268.8" stroke="#b8bbc2" stroke-width="0.9"/>
<rect x="219.01" y="264.0" width="2.1" height="4.0" fill="#b8bbc2"/>
<line x1="223.09" y1="266.2" x2="223.09" y2="272.8" stroke="#9b9da4" stroke-width="0.9"/>
<rect x="222.09" y="267.25" width="2.0" height="4.50" fill="#d5584a" stroke="#a8392d" stroke-width="0.55"/>
<line x1="226.13" y1="270.2" x2="226.13" y2="290.1" stroke="#9b9da4" stroke-width="0.9"/>
<rect x="225.13" y="271.25" width="2.0" height="17.80" fill="#d5584a" stroke="#a8392d" stroke-width="0.55"/>
<line x1="229.17" y1="289.2" x2="229.17" y2="308.4" stroke="#9b9da4" stroke-width="0.9"/>
<rect x="228.17" y="290.25" width="2.0" height="10.90" fill="#d5584a" stroke="#a8392d" stroke-width="0.55"/>
<line x1="232.20" y1="293.5" x2="232.20" y2="301.2" stroke="#9b9da4" stroke-width="0.9"/>
<rect x="231.20" y="294.55" width="2.0" height="5.60" fill="#5fa97a" stroke="#3c7a52" stroke-width="0.55"/>
<line x1="235.24" y1="287.5" x2="235.24" y2="296.1" stroke="#9b9da4" stroke-width="0.9"/>
<rect x="234.24" y="288.55" width="2.0" height="6.50" fill="#5fa97a" stroke="#3c7a52" stroke-width="0.55"/>
<line x1="238.28" y1="287.5" x2="238.28" y2="295.1" stroke="#9b9da4" stroke-width="0.9"/>
<rect x="237.28" y="288.55" width="2.0" height="5.50" fill="#d5584a" stroke="#a8392d" stroke-width="0.55"/>
<line x1="241.32" y1="290.5" x2="241.32" y2="295.1" stroke="#9b9da4" stroke-width="0.9"/>
<rect x="240.32" y="291.55" width="2.0" height="2.50" fill="#5fa97a" stroke="#3c7a52" stroke-width="0.55"/>
<line x1="244.35" y1="290.5" x2="244.35" y2="298.1" stroke="#9b9da4" stroke-width="0.9"/>
<rect x="243.35" y="291.55" width="2.0" height="5.50" fill="#d5584a" stroke="#a8392d" stroke-width="0.55"/>
<line x1="247.39" y1="282.3" x2="247.39" y2="300.4" stroke="#9b9da4" stroke-width="0.9"/>
<rect x="246.39" y="292.55" width="2.0" height="6.60" fill="#5fa97a" stroke="#3c7a52" stroke-width="0.55"/>
<line x1="250.43" y1="284.5" x2="250.43" y2="291.1" stroke="#9b9da4" stroke-width="0.9"/>
<rect x="249.43" y="285.55" width="2.0" height="4.50" fill="#5fa97a" stroke="#3c7a52" stroke-width="0.55"/>
<line x1="253.46" y1="285.2" x2="253.46" y2="291.1" stroke="#9b9da4" stroke-width="0.9"/>
<rect x="252.46" y="286.25" width="2.0" height="3.80" fill="#d5584a" stroke="#a8392d" stroke-width="0.55"/>
<line x1="256.50" y1="289.0" x2="256.50" y2="294.0" stroke="#b8bbc2" stroke-width="0.9"/>
<rect x="255.45" y="290.0" width="2.1" height="2.0" fill="#b8bbc2"/>
<line x1="259.54" y1="288.7" x2="259.54" y2="291.0" stroke="#555a60" stroke-width="0.9"/>
<rect x="258.49" y="289.5" width="2.1" height="0.9" fill="#555a60"/>
<line x1="262.57" y1="283.5" x2="262.57" y2="291.1" stroke="#9b9da4" stroke-width="0.9"/>
<rect x="261.57" y="284.55" width="2.0" height="5.50" fill="#5fa97a" stroke="#3c7a52" stroke-width="0.55"/>
<line x1="265.61" y1="282.2" x2="265.61" y2="284.5" stroke="#555a60" stroke-width="0.9"/>
<rect x="264.56" y="283.0" width="2.1" height="0.9" fill="#555a60"/>
<line x1="268.65" y1="283.1" x2="268.65" y2="287.5" stroke="#9b9da4" stroke-width="0.9"/>
<rect x="267.65" y="284.15" width="2.0" height="2.30" fill="#d5584a" stroke="#a8392d" stroke-width="0.55"/>
<line x1="271.69" y1="285.1" x2="271.69" y2="289.1" stroke="#9b9da4" stroke-width="0.9"/>
<rect x="270.69" y="286.15" width="2.0" height="1.90" fill="#d5584a" stroke="#a8392d" stroke-width="0.55"/>
<line x1="274.72" y1="284.5" x2="274.72" y2="289.1" stroke="#9b9da4" stroke-width="0.9"/>
<rect x="273.72" y="285.55" width="2.0" height="2.50" fill="#5fa97a" stroke="#3c7a52" stroke-width="0.55"/>
<line x1="277.76" y1="285.1" x2="277.76" y2="290.1" stroke="#9b9da4" stroke-width="0.9"/>
<rect x="276.76" y="286.15" width="2.0" height="2.90" fill="#d5584a" stroke="#a8392d" stroke-width="0.55"/>
<line x1="280.80" y1="285.9" x2="280.80" y2="290.1" stroke="#9b9da4" stroke-width="0.9"/>
<rect x="279.80" y="286.95" width="2.0" height="2.10" fill="#5fa97a" stroke="#3c7a52" stroke-width="0.55"/>
<line x1="283.83" y1="277.2" x2="283.83" y2="288.1" stroke="#9b9da4" stroke-width="0.9"/>
<rect x="282.83" y="278.25" width="2.0" height="8.80" fill="#5fa97a" stroke="#3c7a52" stroke-width="0.55"/>
<line x1="286.87" y1="267.8" x2="286.87" y2="278.4" stroke="#9b9da4" stroke-width="0.9"/>
<rect x="285.87" y="268.85" width="2.0" height="8.50" fill="#5fa97a" stroke="#3c7a52" stroke-width="0.55"/>
<line x1="289.91" y1="267.8" x2="289.91" y2="275.8" stroke="#9b9da4" stroke-width="0.9"/>
<rect x="288.91" y="268.85" width="2.0" height="5.90" fill="#d5584a" stroke="#a8392d" stroke-width="0.55"/>
<line x1="292.94" y1="271.4" x2="292.94" y2="275.8" stroke="#9b9da4" stroke-width="0.9"/>
<rect x="291.94" y="272.45" width="2.0" height="2.30" fill="#5fa97a" stroke="#3c7a52" stroke-width="0.55"/>
<line x1="295.98" y1="271.4" x2="295.98" y2="273.9" stroke="#9b9da4" stroke-width="0.9"/>
<rect x="294.98" y="272.45" width="2.0" height="0.50" fill="#5fa97a" stroke="#3c7a52" stroke-width="0.55"/>
<line x1="299.02" y1="266.1" x2="299.02" y2="273.8" stroke="#9b9da4" stroke-width="0.9"/>
<rect x="298.02" y="267.15" width="2.0" height="5.60" fill="#5fa97a" stroke="#3c7a52" stroke-width="0.55"/>
<line x1="302.06" y1="260.6" x2="302.06" y2="279.4" stroke="#9b9da4" stroke-width="0.9"/>
<rect x="301.06" y="264.45" width="2.0" height="3.10" fill="#5fa97a" stroke="#3c7a52" stroke-width="0.55"/>
<line x1="305.09" y1="263.4" x2="305.09" y2="267.7" stroke="#9b9da4" stroke-width="0.9"/>
<rect x="304.09" y="264.45" width="2.0" height="2.20" fill="#d5584a" stroke="#a8392d" stroke-width="0.55"/>
<line x1="308.13" y1="265.8" x2="308.13" y2="268.1" stroke="#555a60" stroke-width="0.9"/>
<rect x="307.08" y="266.6" width="2.1" height="0.9" fill="#555a60"/>
<line x1="311.17" y1="266.1" x2="311.17" y2="271.2" stroke="#9b9da4" stroke-width="0.9"/>
<rect x="310.17" y="267.15" width="2.0" height="3.00" fill="#d5584a" stroke="#a8392d" stroke-width="0.55"/>
<line x1="314.20" y1="270.5" x2="314.20" y2="274.8" stroke="#9b9da4" stroke-width="0.9"/>
<rect x="313.20" y="271.55" width="2.0" height="2.20" fill="#d5584a" stroke="#a8392d" stroke-width="0.55"/>
<line x1="317.24" y1="272.2" x2="317.24" y2="292.8" stroke="#9b9da4" stroke-width="0.9"/>
<rect x="316.24" y="274.25" width="2.0" height="3.10" fill="#d5584a" stroke="#a8392d" stroke-width="0.55"/>
<line x1="320.28" y1="266.0" x2="320.28" y2="283.9" stroke="#555a60" stroke-width="0.9"/>
<rect x="319.23" y="277.2" width="2.1" height="0.9" fill="#555a60"/>
<line x1="323.31" y1="276.8" x2="323.31" y2="304.4" stroke="#9b9da4" stroke-width="0.9"/>
<rect x="322.31" y="277.85" width="2.0" height="25.50" fill="#d5584a" stroke="#a8392d" stroke-width="0.55"/>
<line x1="326.35" y1="290.2" x2="326.35" y2="306.2" stroke="#9b9da4" stroke-width="0.9"/>
<rect x="325.35" y="291.25" width="2.0" height="13.90" fill="#5fa97a" stroke="#3c7a52" stroke-width="0.55"/>
<line x1="329.39" y1="288.7" x2="329.39" y2="291.0" stroke="#555a60" stroke-width="0.9"/>
<rect x="328.34" y="289.5" width="2.1" height="0.9" fill="#555a60"/>
<line x1="332.43" y1="287.6" x2="332.43" y2="289.9" stroke="#555a60" stroke-width="0.9"/>
<rect x="331.38" y="288.4" width="2.1" height="0.9" fill="#555a60"/>
<line x1="335.46" y1="285.6" x2="335.46" y2="293.7" stroke="#b8bbc2" stroke-width="0.9"/>
<rect x="334.41" y="288.0" width="2.1" height="0.9" fill="#b8bbc2"/>
<line x1="338.50" y1="270.5" x2="338.50" y2="289.1" stroke="#9b9da4" stroke-width="0.9"/>
<rect x="337.50" y="271.55" width="2.0" height="16.50" fill="#5fa97a" stroke="#3c7a52" stroke-width="0.55"/>
<line x1="341.54" y1="258.8" x2="341.54" y2="271.6" stroke="#9b9da4" stroke-width="0.9"/>
<rect x="340.54" y="268.85" width="2.0" height="1.70" fill="#5fa97a" stroke="#3c7a52" stroke-width="0.55"/>
<line x1="344.57" y1="267.8" x2="344.57" y2="271.6" stroke="#9b9da4" stroke-width="0.9"/>
<rect x="343.57" y="268.85" width="2.0" height="1.70" fill="#d5584a" stroke="#a8392d" stroke-width="0.55"/>
<line x1="347.61" y1="268.2" x2="347.61" y2="270.8" stroke="#9b9da4" stroke-width="0.9"/>
<rect x="346.61" y="269.25" width="2.0" height="0.50" fill="#5fa97a" stroke="#3c7a52" stroke-width="0.55"/>
<line x1="350.65" y1="263.7" x2="350.65" y2="273.0" stroke="#b8bbc2" stroke-width="0.9"/>
<rect x="349.60" y="268.0" width="2.1" height="1.0" fill="#b8bbc2"/>
<line x1="353.69" y1="268.2" x2="353.69" y2="278.6" stroke="#9b9da4" stroke-width="0.9"/>
<rect x="352.69" y="269.25" width="2.0" height="8.30" fill="#d5584a" stroke="#a8392d" stroke-width="0.55"/>
<line x1="356.72" y1="270.7" x2="356.72" y2="278.6" stroke="#9b9da4" stroke-width="0.9"/>
<rect x="355.72" y="271.75" width="2.0" height="5.80" fill="#5fa97a" stroke="#3c7a52" stroke-width="0.55"/>
<line x1="359.76" y1="269.9" x2="359.76" y2="273.1" stroke="#b8bbc2" stroke-width="0.9"/>
<rect x="358.71" y="270.7" width="2.1" height="1.6" fill="#b8bbc2"/>
<line x1="362.80" y1="269.2" x2="362.80" y2="271.5" stroke="#555a60" stroke-width="0.9"/>
<rect x="361.75" y="270.0" width="2.1" height="0.9" fill="#555a60"/>
<line x1="365.83" y1="265.2" x2="365.83" y2="269.8" stroke="#9b9da4" stroke-width="0.9"/>
<rect x="364.83" y="266.25" width="2.0" height="2.50" fill="#5fa97a" stroke="#3c7a52" stroke-width="0.55"/>
<line x1="368.87" y1="254.3" x2="368.87" y2="266.8" stroke="#9b9da4" stroke-width="0.9"/>
<rect x="367.87" y="261.55" width="2.0" height="4.20" fill="#5fa97a" stroke="#3c7a52" stroke-width="0.55"/>
<line x1="371.91" y1="249.6" x2="371.91" y2="261.3" stroke="#9b9da4" stroke-width="0.9"/>
<rect x="370.91" y="250.65" width="2.0" height="9.60" fill="#5fa97a" stroke="#3c7a52" stroke-width="0.55"/>
<line x1="374.94" y1="248.0" x2="374.94" y2="263.7" stroke="#9b9da4" stroke-width="0.9"/>
<rect x="373.94" y="250.65" width="2.0" height="9.60" fill="#d5584a" stroke="#a8392d" stroke-width="0.55"/>
<line x1="377.98" y1="259.7" x2="377.98" y2="262.1" stroke="#9b9da4" stroke-width="0.9"/>
<rect x="376.98" y="260.75" width="2.0" height="0.50" fill="#d5584a" stroke="#a8392d" stroke-width="0.55"/>
<line x1="381.02" y1="258.7" x2="381.02" y2="261.0" stroke="#555a60" stroke-width="0.9"/>
<rect x="379.97" y="259.5" width="2.1" height="0.9" fill="#555a60"/>
<line x1="384.06" y1="258.2" x2="384.06" y2="261.3" stroke="#b8bbc2" stroke-width="0.9"/>
<rect x="383.00" y="259.0" width="2.1" height="1.5" fill="#b8bbc2"/>
<line x1="387.09" y1="259.0" x2="387.09" y2="263.7" stroke="#9b9da4" stroke-width="0.9"/>
<rect x="386.09" y="260.05" width="2.0" height="2.60" fill="#d5584a" stroke="#a8392d" stroke-width="0.55"/>
<line x1="390.13" y1="260.5" x2="390.13" y2="263.7" stroke="#9b9da4" stroke-width="0.9"/>
<rect x="389.13" y="261.55" width="2.0" height="1.10" fill="#5fa97a" stroke="#3c7a52" stroke-width="0.55"/>
<line x1="393.17" y1="259.0" x2="393.17" y2="262.1" stroke="#9b9da4" stroke-width="0.9"/>
<rect x="392.17" y="260.05" width="2.0" height="1.00" fill="#5fa97a" stroke="#3c7a52" stroke-width="0.55"/>
<line x1="396.20" y1="258.6" x2="396.20" y2="261.3" stroke="#9b9da4" stroke-width="0.9"/>
<rect x="395.20" y="259.65" width="2.0" height="0.60" fill="#d5584a" stroke="#a8392d" stroke-width="0.55"/>
<line x1="399.24" y1="259.0" x2="399.24" y2="261.8" stroke="#9b9da4" stroke-width="0.9"/>
<rect x="398.24" y="260.05" width="2.0" height="0.70" fill="#d5584a" stroke="#a8392d" stroke-width="0.55"/>
<line x1="402.28" y1="259.0" x2="402.28" y2="261.3" stroke="#9b9da4" stroke-width="0.9"/>
<rect x="401.28" y="260.05" width="2.0" height="0.50" fill="#d5584a" stroke="#a8392d" stroke-width="0.55"/>
<line x1="405.31" y1="259.0" x2="405.31" y2="262.1" stroke="#9b9da4" stroke-width="0.9"/>
<rect x="404.31" y="260.05" width="2.0" height="1.00" fill="#d5584a" stroke="#a8392d" stroke-width="0.55"/>
<line x1="408.35" y1="261.5" x2="408.35" y2="267.8" stroke="#9b9da4" stroke-width="0.9"/>
<rect x="407.35" y="262.55" width="2.0" height="4.20" fill="#d5584a" stroke="#a8392d" stroke-width="0.55"/>
<line x1="411.39" y1="267.0" x2="411.39" y2="269.3" stroke="#9b9da4" stroke-width="0.9"/>
<rect x="410.39" y="268.05" width="2.0" height="0.50" fill="#d5584a" stroke="#a8392d" stroke-width="0.55"/>
<line x1="414.43" y1="262.3" x2="414.43" y2="269.3" stroke="#b8bbc2" stroke-width="0.9"/>
<rect x="413.38" y="267.5" width="2.1" height="0.9" fill="#b8bbc2"/>
<line x1="417.46" y1="266.2" x2="417.46" y2="270.8" stroke="#9b9da4" stroke-width="0.9"/>
<rect x="416.46" y="267.25" width="2.0" height="2.50" fill="#d5584a" stroke="#a8392d" stroke-width="0.55"/>
<line x1="420.50" y1="268.9" x2="420.50" y2="271.2" stroke="#555a60" stroke-width="0.9"/>
<rect x="419.45" y="269.7" width="2.1" height="0.9" fill="#555a60"/>
<line x1="423.54" y1="267.0" x2="423.54" y2="278.7" stroke="#9b9da4" stroke-width="0.9"/>
<rect x="422.54" y="271.95" width="2.0" height="5.00" fill="#d5584a" stroke="#a8392d" stroke-width="0.55"/>
<line x1="426.57" y1="276.4" x2="426.57" y2="283.4" stroke="#9b9da4" stroke-width="0.9"/>
<rect x="425.57" y="277.45" width="2.0" height="4.90" fill="#d5584a" stroke="#a8392d" stroke-width="0.55"/>
<line x1="429.61" y1="279.5" x2="429.61" y2="283.4" stroke="#9b9da4" stroke-width="0.9"/>
<rect x="428.61" y="280.55" width="2.0" height="1.80" fill="#5fa97a" stroke="#3c7a52" stroke-width="0.55"/>
<line x1="432.65" y1="270.9" x2="432.65" y2="281.1" stroke="#9b9da4" stroke-width="0.9"/>
<rect x="431.65" y="271.95" width="2.0" height="8.10" fill="#5fa97a" stroke="#3c7a52" stroke-width="0.55"/>
<line x1="435.68" y1="271.7" x2="435.68" y2="275.6" stroke="#9b9da4" stroke-width="0.9"/>
<rect x="434.68" y="272.75" width="2.0" height="1.80" fill="#d5584a" stroke="#a8392d" stroke-width="0.55"/>
<line x1="438.72" y1="273.2" x2="438.72" y2="279.5" stroke="#9b9da4" stroke-width="0.9"/>
<rect x="437.72" y="275.05" width="2.0" height="0.50" fill="#d5584a" stroke="#a8392d" stroke-width="0.55"/>
<line x1="441.76" y1="271.7" x2="441.76" y2="278.0" stroke="#9b9da4" stroke-width="0.9"/>
<rect x="440.76" y="272.75" width="2.0" height="3.40" fill="#5fa97a" stroke="#3c7a52" stroke-width="0.55"/>
<line x1="444.80" y1="265.4" x2="444.80" y2="273.3" stroke="#9b9da4" stroke-width="0.9"/>
<rect x="443.80" y="266.45" width="2.0" height="5.80" fill="#5fa97a" stroke="#3c7a52" stroke-width="0.55"/>
<line x1="447.83" y1="247.4" x2="447.83" y2="267.0" stroke="#9b9da4" stroke-width="0.9"/>
<rect x="446.83" y="252.25" width="2.0" height="13.70" fill="#5fa97a" stroke="#3c7a52" stroke-width="0.55"/>
<line x1="450.87" y1="251.2" x2="450.87" y2="259.8" stroke="#9b9da4" stroke-width="0.9"/>
<rect x="449.87" y="252.25" width="2.0" height="6.50" fill="#d5584a" stroke="#a8392d" stroke-width="0.55"/>
<line x1="453.91" y1="256.0" x2="453.91" y2="259.8" stroke="#9b9da4" stroke-width="0.9"/>
<rect x="452.91" y="257.05" width="2.0" height="1.70" fill="#5fa97a" stroke="#3c7a52" stroke-width="0.55"/>
<line x1="456.94" y1="252.2" x2="456.94" y2="257.6" stroke="#9b9da4" stroke-width="0.9"/>
<rect x="455.94" y="253.25" width="2.0" height="3.30" fill="#5fa97a" stroke="#3c7a52" stroke-width="0.55"/>
<line x1="459.98" y1="251.3" x2="459.98" y2="253.7" stroke="#9b9da4" stroke-width="0.9"/>
<rect x="458.98" y="252.35" width="2.0" height="0.50" fill="#d5584a" stroke="#a8392d" stroke-width="0.55"/>
<line x1="463.02" y1="249.0" x2="463.02" y2="264.6" stroke="#9b9da4" stroke-width="0.9"/>
<rect x="462.02" y="253.15" width="2.0" height="5.60" fill="#d5584a" stroke="#a8392d" stroke-width="0.55"/>
<line x1="466.05" y1="257.6" x2="466.05" y2="260.8" stroke="#9b9da4" stroke-width="0.9"/>
<rect x="465.05" y="258.65" width="2.0" height="1.10" fill="#5fa97a" stroke="#3c7a52" stroke-width="0.55"/>
<line x1="469.09" y1="256.8" x2="469.09" y2="259.2" stroke="#9b9da4" stroke-width="0.9"/>
<rect x="468.09" y="257.85" width="2.0" height="0.50" fill="#d5584a" stroke="#a8392d" stroke-width="0.55"/>
<line x1="472.13" y1="254.0" x2="472.13" y2="260.3" stroke="#9b9da4" stroke-width="0.9"/>
<rect x="471.13" y="255.05" width="2.0" height="4.20" fill="#5fa97a" stroke="#3c7a52" stroke-width="0.55"/>
<line x1="475.17" y1="254.8" x2="475.17" y2="261.1" stroke="#9b9da4" stroke-width="0.9"/>
<rect x="474.17" y="255.85" width="2.0" height="4.20" fill="#d5584a" stroke="#a8392d" stroke-width="0.55"/>
<line x1="478.20" y1="257.2" x2="478.20" y2="260.3" stroke="#9b9da4" stroke-width="0.9"/>
<rect x="477.20" y="258.25" width="2.0" height="1.00" fill="#5fa97a" stroke="#3c7a52" stroke-width="0.55"/>
<line x1="481.24" y1="257.2" x2="481.24" y2="266.6" stroke="#9b9da4" stroke-width="0.9"/>
<rect x="480.24" y="258.25" width="2.0" height="6.50" fill="#d5584a" stroke="#a8392d" stroke-width="0.55"/>
<line x1="484.28" y1="261.1" x2="484.28" y2="265.0" stroke="#9b9da4" stroke-width="0.9"/>
<rect x="483.28" y="262.15" width="2.0" height="1.80" fill="#5fa97a" stroke="#3c7a52" stroke-width="0.55"/>
<line x1="487.31" y1="259.9" x2="487.31" y2="262.2" stroke="#555a60" stroke-width="0.9"/>
<rect x="486.26" y="260.7" width="2.1" height="0.9" fill="#555a60"/>
<line x1="490.35" y1="254.0" x2="490.35" y2="262.7" stroke="#9b9da4" stroke-width="0.9"/>
<rect x="489.35" y="255.05" width="2.0" height="6.60" fill="#5fa97a" stroke="#3c7a52" stroke-width="0.55"/>
<line x1="493.39" y1="250.2" x2="493.39" y2="254.8" stroke="#9b9da4" stroke-width="0.9"/>
<rect x="492.39" y="251.25" width="2.0" height="2.50" fill="#5fa97a" stroke="#3c7a52" stroke-width="0.55"/>
<line x1="496.42" y1="238.4" x2="496.42" y2="250.8" stroke="#9b9da4" stroke-width="0.9"/>
<rect x="495.42" y="242.55" width="2.0" height="7.20" fill="#5fa97a" stroke="#3c7a52" stroke-width="0.55"/>
<line x1="499.46" y1="243.1" x2="499.46" y2="247.8" stroke="#9b9da4" stroke-width="0.9"/>
<rect x="498.46" y="244.15" width="2.0" height="2.60" fill="#d5584a" stroke="#a8392d" stroke-width="0.55"/>
<line x1="502.50" y1="238.2" x2="502.50" y2="247.0" stroke="#9b9da4" stroke-width="0.9"/>
<rect x="501.50" y="239.25" width="2.0" height="6.70" fill="#5fa97a" stroke="#3c7a52" stroke-width="0.55"/>
<line x1="505.54" y1="236.8" x2="505.54" y2="241.5" stroke="#9b9da4" stroke-width="0.9"/>
<rect x="504.54" y="239.05" width="2.0" height="1.40" fill="#d5584a" stroke="#a8392d" stroke-width="0.55"/>
<line x1="508.57" y1="238.9" x2="508.57" y2="241.2" stroke="#555a60" stroke-width="0.9"/>
<rect x="507.52" y="239.7" width="2.1" height="0.9" fill="#555a60"/>
<line x1="511.61" y1="238.4" x2="511.61" y2="240.8" stroke="#9b9da4" stroke-width="0.9"/>
<rect x="510.61" y="239.45" width="2.0" height="0.50" fill="#5fa97a" stroke="#3c7a52" stroke-width="0.55"/>
<line x1="514.65" y1="238.0" x2="514.65" y2="240.8" stroke="#9b9da4" stroke-width="0.9"/>
<rect x="513.65" y="239.05" width="2.0" height="0.70" fill="#d5584a" stroke="#a8392d" stroke-width="0.55"/>
<line x1="514.65" y1="238.9" x2="514.65" y2="241.2" stroke="#555a60" stroke-width="0.9"/>
<rect x="513.60" y="239.7" width="2.1" height="0.9" fill="#555a60"/>
<line x1="517.68" y1="236.8" x2="517.68" y2="240.0" stroke="#9b9da4" stroke-width="0.9"/>
<rect x="516.68" y="237.85" width="2.0" height="1.10" fill="#5fa97a" stroke="#3c7a52" stroke-width="0.55"/>
<line x1="520.72" y1="219.6" x2="520.72" y2="239.2" stroke="#9b9da4" stroke-width="0.9"/>
<rect x="519.72" y="224.55" width="2.0" height="13.60" fill="#5fa97a" stroke="#3c7a52" stroke-width="0.55"/>
<line x1="523.76" y1="223.0" x2="523.76" y2="225.5" stroke="#9b9da4" stroke-width="0.9"/>
<rect x="522.76" y="224.05" width="2.0" height="0.50" fill="#5fa97a" stroke="#3c7a52" stroke-width="0.55"/>
<line x1="526.79" y1="222.7" x2="526.79" y2="226.6" stroke="#9b9da4" stroke-width="0.9"/>
<rect x="525.79" y="223.75" width="2.0" height="1.80" fill="#d5584a" stroke="#a8392d" stroke-width="0.55"/>
<line x1="529.83" y1="222.4" x2="529.83" y2="225.8" stroke="#9b9da4" stroke-width="0.9"/>
<rect x="528.83" y="223.45" width="2.0" height="1.30" fill="#5fa97a" stroke="#3c7a52" stroke-width="0.55"/>
<line x1="532.87" y1="221.2" x2="532.87" y2="223.6" stroke="#555a60" stroke-width="0.9"/>
<rect x="531.82" y="222.0" width="2.1" height="0.9" fill="#555a60"/>
<line x1="535.90" y1="216.2" x2="535.90" y2="224.0" stroke="#9b9da4" stroke-width="0.9"/>
<rect x="534.90" y="217.25" width="2.0" height="5.70" fill="#5fa97a" stroke="#3c7a52" stroke-width="0.55"/>
<line x1="538.94" y1="216.2" x2="538.94" y2="222.2" stroke="#9b9da4" stroke-width="0.9"/>
<rect x="537.94" y="217.25" width="2.0" height="3.90" fill="#d5584a" stroke="#a8392d" stroke-width="0.55"/>
<line x1="541.98" y1="211.7" x2="541.98" y2="221.3" stroke="#9b9da4" stroke-width="0.9"/>
<rect x="540.98" y="212.75" width="2.0" height="7.50" fill="#5fa97a" stroke="#3c7a52" stroke-width="0.55"/>
<line x1="545.02" y1="195.6" x2="545.02" y2="214.2" stroke="#9b9da4" stroke-width="0.9"/>
<rect x="544.02" y="196.65" width="2.0" height="16.50" fill="#5fa97a" stroke="#3c7a52" stroke-width="0.55"/>
<line x1="548.05" y1="180.4" x2="548.05" y2="198.1" stroke="#9b9da4" stroke-width="0.9"/>
<rect x="547.05" y="181.45" width="2.0" height="15.60" fill="#5fa97a" stroke="#3c7a52" stroke-width="0.55"/>
<line x1="551.09" y1="166.0" x2="551.09" y2="182.0" stroke="#9b9da4" stroke-width="0.9"/>
<rect x="550.09" y="177.95" width="2.0" height="3.00" fill="#5fa97a" stroke="#3c7a52" stroke-width="0.55"/>
<line x1="554.13" y1="169.6" x2="554.13" y2="186.5" stroke="#9b9da4" stroke-width="0.9"/>
<rect x="553.13" y="177.05" width="2.0" height="8.40" fill="#d5584a" stroke="#a8392d" stroke-width="0.55"/>
<line x1="557.16" y1="168.8" x2="557.16" y2="186.5" stroke="#9b9da4" stroke-width="0.9"/>
<rect x="556.16" y="169.85" width="2.0" height="15.60" fill="#5fa97a" stroke="#3c7a52" stroke-width="0.55"/>
<line x1="560.20" y1="161.8" x2="560.20" y2="172.8" stroke="#b8bbc2" stroke-width="0.9"/>
<rect x="559.15" y="169.0" width="2.1" height="3.0" fill="#b8bbc2"/>
<line x1="563.24" y1="169.0" x2="563.24" y2="174.2" stroke="#9b9da4" stroke-width="0.9"/>
<rect x="562.24" y="170.05" width="2.0" height="3.10" fill="#d5584a" stroke="#a8392d" stroke-width="0.55"/>
<line x1="566.27" y1="172.6" x2="566.27" y2="179.6" stroke="#9b9da4" stroke-width="0.9"/>
<rect x="565.27" y="173.65" width="2.0" height="4.90" fill="#d5584a" stroke="#a8392d" stroke-width="0.55"/>
<line x1="569.31" y1="174.4" x2="569.31" y2="181.3" stroke="#9b9da4" stroke-width="0.9"/>
<rect x="568.31" y="175.45" width="2.0" height="4.80" fill="#5fa97a" stroke="#3c7a52" stroke-width="0.55"/>
<line x1="572.35" y1="162.4" x2="572.35" y2="176.0" stroke="#9b9da4" stroke-width="0.9"/>
<rect x="571.35" y="163.45" width="2.0" height="11.50" fill="#5fa97a" stroke="#3c7a52" stroke-width="0.55"/>
<line x1="575.39" y1="129.7" x2="575.39" y2="164.4" stroke="#9b9da4" stroke-width="0.9"/>
<rect x="574.39" y="130.75" width="2.0" height="32.60" fill="#5fa97a" stroke="#3c7a52" stroke-width="0.55"/>
<line x1="578.42" y1="115.4" x2="578.42" y2="137.7" stroke="#9b9da4" stroke-width="0.9"/>
<rect x="577.42" y="125.45" width="2.0" height="3.90" fill="#5fa97a" stroke="#3c7a52" stroke-width="0.55"/>
<line x1="581.46" y1="123.5" x2="581.46" y2="132.2" stroke="#9b9da4" stroke-width="0.9"/>
<rect x="580.46" y="124.55" width="2.0" height="6.60" fill="#d5584a" stroke="#a8392d" stroke-width="0.55"/>
<line x1="584.50" y1="130.2" x2="584.50" y2="134.0" stroke="#9b9da4" stroke-width="0.9"/>
<rect x="583.50" y="131.25" width="2.0" height="1.70" fill="#d5584a" stroke="#a8392d" stroke-width="0.55"/>
<line x1="587.53" y1="119.8" x2="587.53" y2="138.6" stroke="#9b9da4" stroke-width="0.9"/>
<rect x="586.53" y="129.05" width="2.0" height="3.00" fill="#5fa97a" stroke="#3c7a52" stroke-width="0.55"/>
<line x1="590.57" y1="122.6" x2="590.57" y2="129.6" stroke="#b8bbc2" stroke-width="0.9"/>
<rect x="589.52" y="123.4" width="2.1" height="5.4" fill="#b8bbc2"/>
<line x1="593.61" y1="120.5" x2="593.61" y2="131.8" stroke="#9b9da4" stroke-width="0.9"/>
<rect x="592.61" y="126.25" width="2.0" height="4.50" fill="#5fa97a" stroke="#3c7a52" stroke-width="0.55"/>
<line x1="596.64" y1="125.0" x2="596.64" y2="132.4" stroke="#9b9da4" stroke-width="0.9"/>
<rect x="595.64" y="126.05" width="2.0" height="5.30" fill="#d5584a" stroke="#a8392d" stroke-width="0.55"/>
<line x1="599.68" y1="125.4" x2="599.68" y2="132.4" stroke="#9b9da4" stroke-width="0.9"/>
<rect x="598.68" y="127.45" width="2.0" height="3.90" fill="#5fa97a" stroke="#3c7a52" stroke-width="0.55"/>
<line x1="602.72" y1="125.4" x2="602.72" y2="129.0" stroke="#9b9da4" stroke-width="0.9"/>
<rect x="601.72" y="127.25" width="2.0" height="0.70" fill="#d5584a" stroke="#a8392d" stroke-width="0.55"/>
<line x1="605.76" y1="127.4" x2="605.76" y2="150.0" stroke="#9b9da4" stroke-width="0.9"/>
<rect x="604.76" y="128.45" width="2.0" height="14.60" fill="#d5584a" stroke="#a8392d" stroke-width="0.55"/>
<line x1="608.79" y1="127.2" x2="608.79" y2="147.6" stroke="#9b9da4" stroke-width="0.9"/>
<rect x="607.79" y="134.25" width="2.0" height="10.00" fill="#5fa97a" stroke="#3c7a52" stroke-width="0.55"/>
<line x1="611.83" y1="131.6" x2="611.83" y2="145.7" stroke="#9b9da4" stroke-width="0.9"/>
<rect x="610.83" y="133.05" width="2.0" height="10.00" fill="#d5584a" stroke="#a8392d" stroke-width="0.55"/>
<line x1="614.87" y1="140.6" x2="614.87" y2="144.5" stroke="#9b9da4" stroke-width="0.9"/>
<rect x="613.87" y="141.65" width="2.0" height="1.40" fill="#5fa97a" stroke="#3c7a52" stroke-width="0.55"/>
<line x1="617.90" y1="136.5" x2="617.90" y2="142.2" stroke="#9b9da4" stroke-width="0.9"/>
<rect x="616.90" y="139.55" width="2.0" height="1.60" fill="#5fa97a" stroke="#3c7a52" stroke-width="0.55"/>
<line x1="620.94" y1="138.5" x2="620.94" y2="144.7" stroke="#9b9da4" stroke-width="0.9"/>
<rect x="619.94" y="139.55" width="2.0" height="4.10" fill="#d5584a" stroke="#a8392d" stroke-width="0.55"/>
<line x1="623.98" y1="132.0" x2="623.98" y2="144.1" stroke="#9b9da4" stroke-width="0.9"/>
<rect x="622.98" y="133.05" width="2.0" height="10.00" fill="#5fa97a" stroke="#3c7a52" stroke-width="0.55"/>
<line x1="627.01" y1="130.3" x2="627.01" y2="135.9" stroke="#9b9da4" stroke-width="0.9"/>
<rect x="626.01" y="133.05" width="2.0" height="1.30" fill="#d5584a" stroke="#a8392d" stroke-width="0.55"/>
<line x1="6" y1="270.5" x2="754" y2="193.4" stroke="#2962ff" stroke-width="1.55"/>
<line x1="140" y1="326.7" x2="754.5" y2="256.5" stroke="#2962ff" stroke-width="1.55"/>
<polyline points="63.4,327.0 104.3,262.9 192.5,319.8 216.7,250.6 325.3,305.5 572.9,116.4 618.2,157.3 706.4,62.4" fill="none" stroke="#2962ff" stroke-width="1.55" stroke-linejoin="miter"/>
<polyline points="696.1,62.8 706.4,62.35 706.6,72.4" fill="none" stroke="#2962ff" stroke-width="1.55"/>
</g>
<!-- axes -->
<line x1="6" y1="422.4" x2="798" y2="422.4" stroke="#a3a5ad" stroke-width="1.1"/>
<line x1="754.6" y1="8" x2="754.6" y2="447" stroke="#b9bcc3" stroke-width="1.3"/>
<text x="759.8" y="64.5" font-size="8.6" fill="#2a2e39" font-weight="normal" text-anchor="start" textLength="21.4" lengthAdjust="spacingAndGlyphs">47000</text>
<text x="759.8" y="107.7" font-size="8.6" fill="#2a2e39" font-weight="normal" text-anchor="start" textLength="21.4" lengthAdjust="spacingAndGlyphs">45000</text>
<text x="759.8" y="129.2" font-size="8.6" fill="#2a2e39" font-weight="normal" text-anchor="start" textLength="21.4" lengthAdjust="spacingAndGlyphs">44000</text>
<text x="759.8" y="172.4" font-size="8.6" fill="#2a2e39" font-weight="normal" text-anchor="start" textLength="21.4" lengthAdjust="spacingAndGlyphs">42000</text>
<text x="759.8" y="215.6" font-size="8.6" fill="#2a2e39" font-weight="normal" text-anchor="start" textLength="21.4" lengthAdjust="spacingAndGlyphs">40000</text>
<text x="759.8" y="237.1" font-size="8.6" fill="#2a2e39" font-weight="normal" text-anchor="start" textLength="21.4" lengthAdjust="spacingAndGlyphs">39000</text>
<text x="759.8" y="258.7" font-size="8.6" fill="#2a2e39" font-weight="normal" text-anchor="start" textLength="21.4" lengthAdjust="spacingAndGlyphs">38000</text>
<text x="759.8" y="280.3" font-size="8.6" fill="#2a2e39" font-weight="normal" text-anchor="start" textLength="21.4" lengthAdjust="spacingAndGlyphs">37000</text>
<text x="759.8" y="301.9" font-size="8.6" fill="#2a2e39" font-weight="normal" text-anchor="start" textLength="21.4" lengthAdjust="spacingAndGlyphs">36000</text>
<text x="759.8" y="323.5" font-size="8.6" fill="#2a2e39" font-weight="normal" text-anchor="start" textLength="21.4" lengthAdjust="spacingAndGlyphs">35000</text>
<rect x="754.5" y="33" width="30.2" height="12.3" fill="#f23645" rx="1"/><text x="760" y="42.1" font-size="8.4" fill="#fff" font-weight="bold" text-anchor="start" textLength="21" lengthAdjust="spacingAndGlyphs">48017</text>
<rect x="754.5" y="78.8" width="30.2" height="11.8" fill="#f23645" rx="1"/><text x="760" y="87.7" font-size="8.4" fill="#fff" font-weight="bold" text-anchor="start" textLength="21" lengthAdjust="spacingAndGlyphs">45926</text>
<rect x="754.5" y="108.4" width="30.2" height="12.3" fill="#f23645" rx="1"/><text x="760" y="117.6" font-size="8.4" fill="#fff" font-weight="bold" text-anchor="start" textLength="21" lengthAdjust="spacingAndGlyphs">44525</text>
<rect x="754.5" y="128.5" width="39.1" height="21.5" fill="#de5141" rx="1"/><text x="760" y="137.4" font-size="8.4" fill="#fff" font-weight="bold" text-anchor="start" textLength="21" lengthAdjust="spacingAndGlyphs">43599</text><text x="760" y="146.8" font-size="8.4" fill="#fff" font-weight="bold" text-anchor="start" textLength="30.4" lengthAdjust="spacingAndGlyphs">01:32:41</text>
<rect x="754.5" y="154.3" width="30.2" height="11.2" fill="#f23645" rx="1"/><text x="760" y="162.9" font-size="8.4" fill="#fff" font-weight="bold" text-anchor="start" textLength="21" lengthAdjust="spacingAndGlyphs">42429</text>
<rect x="754.5" y="172.2" width="30.2" height="12.3" fill="#2962ff" rx="1"/><text x="760" y="181.3" font-size="8.4" fill="#fff" font-weight="bold" text-anchor="start" textLength="21" lengthAdjust="spacingAndGlyphs">41585</text>
<rect x="754.5" y="184.7" width="30.2" height="10.3" fill="#f23645" rx="1"/><text x="760" y="192.8" font-size="8.4" fill="#fff" font-weight="bold" text-anchor="start" textLength="21" lengthAdjust="spacingAndGlyphs">41190</text>
<rect x="754.5" y="203" width="30.2" height="10.6" fill="#f23645" rx="1"/><text x="760" y="211.3" font-size="8.4" fill="#fff" font-weight="bold" text-anchor="start" textLength="21" lengthAdjust="spacingAndGlyphs">40190</text>
<circle cx="16.05" cy="17.7" r="5.9" fill="#f7931a"/>
<text x="15.4" y="20.9" font-size="8.2" font-weight="bold" fill="#fff" text-anchor="middle" font-style="italic">&#x0E3F;</text>
<text x="25.6" y="21.9" font-size="10.3" fill="#62656d" font-weight="normal" text-anchor="start" textLength="32.4" lengthAdjust="spacingAndGlyphs">Bitcoin</text>
<text x="63" y="21.9" font-size="10.3" fill="#62656d" font-weight="normal" text-anchor="start" textLength="2.6" lengthAdjust="spacingAndGlyphs">/</text>
<text x="71" y="21.9" font-size="10.3" fill="#62656d" font-weight="normal" text-anchor="start" textLength="19" lengthAdjust="spacingAndGlyphs">U.S.</text>
<text x="94.6" y="21.9" font-size="10.3" fill="#62656d" font-weight="normal" text-anchor="start" textLength="26.6" lengthAdjust="spacingAndGlyphs">Dollar</text>
<text x="131" y="21.9" font-size="10.3" fill="#62656d" font-weight="normal" text-anchor="start" textLength="11" lengthAdjust="spacingAndGlyphs">4h</text>
<text x="151" y="21.9" font-size="10.3" fill="#62656d" font-weight="normal" text-anchor="start" textLength="44.7" lengthAdjust="spacingAndGlyphs">BITSTAMP</text>
<circle cx="126.2" cy="18.2" r="0.9" fill="#62656d"/><circle cx="146" cy="18.2" r="0.9" fill="#62656d"/>
<circle cx="212.3" cy="17.6" r="5" fill="#089981" opacity="0.13"/><circle cx="212.3" cy="17.6" r="2.6" fill="#089981"/>
<text x="230" y="21" font-size="8.6" fill="#6a6d78" textLength="28.8" lengthAdjust="spacingAndGlyphs">O<tspan fill="#8c3b3b">43664</tspan></text>
<text x="263.2" y="21" font-size="8.6" fill="#6a6d78" textLength="28.8" lengthAdjust="spacingAndGlyphs">H<tspan fill="#8c3b3b">43797</tspan></text>
<text x="297" y="21" font-size="8.6" fill="#6a6d78" textLength="28.2" lengthAdjust="spacingAndGlyphs">L<tspan fill="#8c3b3b">43492</tspan></text>
<text x="329.4" y="21" font-size="8.6" fill="#6a6d78" textLength="27.9" lengthAdjust="spacingAndGlyphs">C<tspan fill="#8c3b3b">43599</tspan></text>
<text x="361.4" y="21" font-size="8.6" fill="#8c3b3b" font-weight="normal" text-anchor="start" textLength="13.5" lengthAdjust="spacingAndGlyphs">−65</text>
<text x="378.9" y="21" font-size="8.6" fill="#8c3b3b" font-weight="normal" text-anchor="start" textLength="32" lengthAdjust="spacingAndGlyphs">(−0.15%)</text>
<rect x="42.4" y="36" width="14.7" height="6" fill="#fff" opacity="0.55"/>
<rect x="10" y="29.4" width="32.4" height="15" rx="2" fill="#fff" stroke="#f59aa2" stroke-width="0.9"/>
<text x="26.6" y="40.2" font-size="8.7" fill="#f23645" font-weight="normal" text-anchor="middle" textLength="23.4" lengthAdjust="spacingAndGlyphs">43609</text>
<text x="50.4" y="40.2" font-size="8.9" fill="#131722" font-weight="normal" text-anchor="middle">5</text>
<rect x="57.5" y="29.4" width="33.6" height="15" rx="2" fill="#fff" stroke="#8fb0fd" stroke-width="0.9"/>
<text x="75" y="40.2" font-size="8.7" fill="#2962ff" font-weight="normal" text-anchor="middle" textLength="22.1" lengthAdjust="spacingAndGlyphs">43614</text>
<rect x="11.2" y="48.7" width="19.2" height="13.5" rx="2" fill="#fff" stroke="#e0e3eb" stroke-width="0.9"/>
<polyline points="15.2,54.6 17.4,56.6 19.6,54.6" fill="none" stroke="#2a2e39" stroke-width="1.1"/>
<text x="25.6" y="58.8" font-size="8.6" fill="#2a2e39" font-weight="normal" text-anchor="middle">1</text>
<rect x="757.6" y="10" width="44" height="16.5" rx="2.5" fill="#fff" stroke="#e6e8ee" stroke-width="0.9"/>
<text x="759.6" y="21.2" font-size="8.8" fill="#131722" font-weight="normal" text-anchor="start" textLength="14" lengthAdjust="spacingAndGlyphs">USD</text>
<polyline points="788.3,17.4 790.1,18.9 791.9,17.4" fill="none" stroke="#131722" stroke-width="1.1"/>
<text x="34.8" y="434.6" font-size="7.8" fill="#2a2e39" font-weight="normal" text-anchor="middle">6</text>
<text x="89.5" y="434.6" font-size="7.8" fill="#2a2e39" font-weight="normal" text-anchor="middle">9</text>
<text x="162.2" y="434.6" font-size="7.8" fill="#2a2e39" font-weight="normal" text-anchor="middle">13</text>
<text x="217" y="434.6" font-size="7.8" fill="#2a2e39" font-weight="normal" text-anchor="middle">16</text>
<text x="289.7" y="434.6" font-size="7.8" fill="#2a2e39" font-weight="normal" text-anchor="middle">20</text>
<text x="344.1" y="434.6" font-size="7.8" fill="#2a2e39" font-weight="normal" text-anchor="middle">23</text>
<text x="417.5" y="434.6" font-size="7.8" fill="#2a2e39" font-weight="normal" text-anchor="middle">27</text>
<text x="490.2" y="434.6" font-size="7.8" fill="#2a2e39" font-weight="normal" text-anchor="middle">Dec</text>
<text x="545.4" y="434.6" font-size="7.8" fill="#2a2e39" font-weight="normal" text-anchor="middle">4</text>
<text x="600" y="434.6" font-size="7.8" fill="#2a2e39" font-weight="normal" text-anchor="middle">7</text>
<text x="672.7" y="434.6" font-size="7.8" fill="#2a2e39" font-weight="normal" text-anchor="middle">11</text>
<text x="727.3" y="434.6" font-size="7.8" fill="#2a2e39" font-weight="normal" text-anchor="middle">14</text>
<text x="760" y="343.2" font-size="8.4" fill="#2a2e39" font-weight="normal" text-anchor="start" textLength="20" lengthAdjust="spacingAndGlyphs">80.00</text>
<text x="760" y="400.1" font-size="8.4" fill="#2a2e39" font-weight="normal" text-anchor="start" textLength="20" lengthAdjust="spacingAndGlyphs">40.00</text>
<rect x="754.7" y="348.5" width="28.9" height="11.4" fill="#dcf03c"/>
<text x="760" y="357.3" font-size="8.4" fill="#131722" font-weight="normal" text-anchor="start" textLength="20.6" lengthAdjust="spacingAndGlyphs">68.02</text>
<rect x="754.7" y="360.2" width="28.9" height="11.4" fill="#9d4fc9"/>
<text x="760" y="369" font-size="8.4" fill="#ffffff" font-weight="bold" text-anchor="start" textLength="20.6" lengthAdjust="spacingAndGlyphs">61.93</text>
<polygon points="781.6,431.9 778.85,436.7 773.35,436.7 770.6,431.9 773.35,427.1 778.85,427.1" fill="none" stroke="#7d8088" stroke-width="1.3" stroke-linejoin="round"/>
<circle cx="776.1" cy="431.9" r="2" fill="none" stroke="#7d8088" stroke-width="1.3"/>
<path d="M12,402.7 H19.9 V411.9 H16.2 V405.5 H12 Z" fill="#131722"/>
<circle cx="23.6" cy="404.1" r="1.6" fill="#131722"/>
<path d="M27,402.7 H32.2 L28.3,411.9 H23.6 Z" fill="#131722"/>
<text x="37.5" y="411.9" font-size="13.2" fill="#131722" font-weight="bold" text-anchor="start" textLength="81" lengthAdjust="spacingAndGlyphs">TradingView</text>
<path d="M630.3,312.2 A6.6,6.6 0 1 0 633.6,316.4" fill="none" stroke="#9c3fd0" stroke-width="1.3"/>
<circle cx="631.9" cy="313.7" r="2" fill="#f23645"/>
<path d="M629.9,314.7 L624.6,319 L627.4,319 L625.3,322.2 L630.5,317.6 L627.8,317.6 Z" fill="#9c3fd0"/>
</svg>
</body></html>
